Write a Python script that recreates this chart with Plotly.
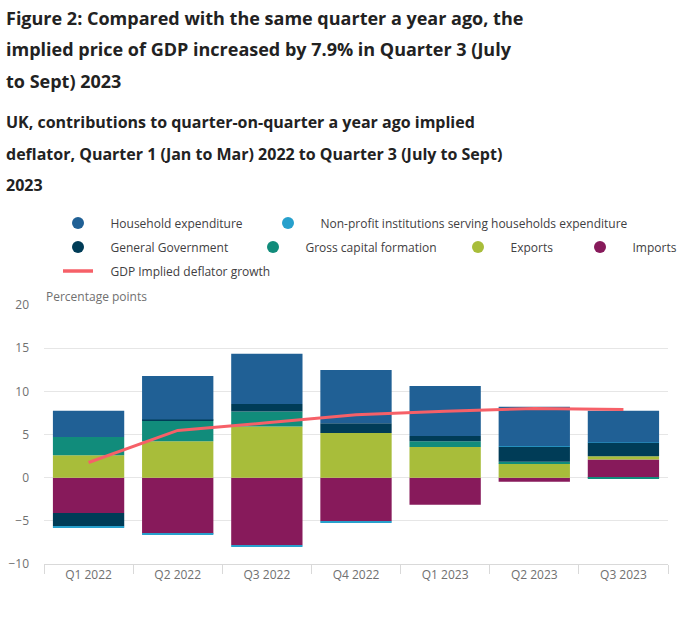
import plotly.graph_objects as go

quarters = ["Q1 2022", "Q2 2022", "Q3 2022", "Q4 2022", "Q1 2023", "Q2 2023", "Q3 2023"]

# contributions, percentage points
household = [3.06, 5.04, 5.81, 6.16, 5.81, 4.58, 3.69]
npish = [-0.2, -0.1, -0.1, -0.1, 0.0, 0.08, 0.05]
general_gov = [-1.53, 0.12, 0.88, 1.15, 0.61, 1.72, 1.53]
gross_capital = [2.1, 2.41, 1.72, 0.0, 0.65, 0.2, -0.1]
exports = [2.6, 4.21, 5.93, 5.16, 3.56, 1.64, 0.39]
imports = [-4.09, -6.5, -7.84, -5.05, -3.14, -0.46, 2.1]
deflator = [1.76, 5.47, 6.35, 7.3, 7.7, 8.0, 7.9]

title_lines = [
    "Figure 2: Compared with the same quarter a year ago, the",
    "implied price of GDP increased by 7.9% in Quarter 3 (July",
    "to Sept) 2023",
]
subtitle_lines = [
    "UK, contributions to quarter-on-quarter a year ago implied",
    "deflator, Quarter 1 (Jan to Mar) 2022 to Quarter 3 (July to Sept)",
    "2023",
]

W, H = 685, 633
ML, MT = 44, 305
MR, MB = W - 668, H - 564
FONT = "Open Sans"
PAD = "\u00a0" * 4

# stacking order (bottom first) is the reverse of the legend order
series = [
    ("Imports", imports, "#871a5b"),
    ("Exports", exports, "#a8bd3a"),
    ("Gross capital formation", gross_capital, "#118c7b"),
    ("General Government", general_gov, "#003c57"),
    ("Non-profit institutions serving households expenditure", npish, "#27a0cc"),
    ("Household expenditure", household, "#206095"),
]

# legend slot for each series: (legend id, marker x px, row y px)
legend_pos = {
    "Household expenditure": ("legend", 78, 223),
    "Non-profit institutions serving households expenditure": ("legend2", 288, 223),
    "General Government": ("legend3", 78, 247),
    "Gross capital formation": ("legend4", 273, 247),
    "Exports": ("legend5", 478, 247),
    "Imports": ("legend6", 600, 247),
    "GDP Implied deflator growth": ("legend7", 78, 271),
}

fig = go.Figure()

for name, vals, col in series:
    fig.add_trace(go.Bar(
        x=quarters, y=vals, name=name, marker_color=col,
        marker_line_width=0, showlegend=False,
    ))

fig.add_trace(go.Scatter(
    x=quarters, y=deflator, name="GDP Implied deflator growth",
    mode="lines", line=dict(color="#f66068", width=3), showlegend=False,
))

# legend entries with round symbols
for name, vals, col in reversed(series):
    lg = legend_pos[name][0]
    fig.add_trace(go.Scatter(
        x=[None], y=[None], mode="markers", name=PAD + name, legend=lg,
        marker=dict(symbol="circle", size=12, color=col),
    ))
fig.add_trace(go.Scatter(
    x=[None], y=[None], mode="lines", name=PAD + "GDP Implied deflator growth",
    legend="legend7", line=dict(color="#f66068", width=3.5),
))

legends = {}
for name, (lg, mx, my) in legend_pos.items():
    legends[lg] = dict(
        xref="container", yref="container",
        x=(mx - 20) / W, y=1 - my / H,
        xanchor="left", yanchor="middle",
        orientation="h", bgcolor="rgba(0,0,0,0)",
        font=dict(family=FONT, size=12, color="#414042"),
    )


def py(p):
    # pixel row -> paper y
    return (H - MB - p) / (H - MT - MB)


def px(p):
    return (p - ML) / (W - ML - MR)


annotations = []
for txt, yc in zip(title_lines, [18, 49, 81]):
    annotations.append(dict(
        text=txt, x=px(5), y=py(yc), xref="paper", yref="paper",
        xanchor="left", yanchor="middle", showarrow=False, borderpad=0,
        font=dict(family=FONT, size=18, weight="bold", color="#222222"),
    ))
for txt, yc in zip(subtitle_lines, [122, 154, 185]):
    annotations.append(dict(
        text=txt, x=px(5), y=py(yc), xref="paper", yref="paper",
        xanchor="left", yanchor="middle", showarrow=False, borderpad=0,
        font=dict(family=FONT, size=16, weight="bold", color="#222222"),
    ))
annotations.append(dict(
    text="Percentage points", x=px(45), y=py(296), xref="paper", yref="paper",
    xanchor="left", yanchor="middle", showarrow=False, borderpad=0,
    font=dict(family=FONT, size=12, color="#707070"),
))

fig.update_layout(
    width=W, height=H,
    margin=dict(l=ML, r=MR, t=MT, b=MB),
    barmode="relative", bargap=0.2,
    plot_bgcolor="white", paper_bgcolor="white",
    font=dict(family=FONT, size=12, color="#707070"),
    annotations=annotations,
    **legends,
)
fig.update_xaxes(
    automargin=False,
    showgrid=False, showline=True, linecolor="#d9d9d9", linewidth=1,
    ticks="outside", tickson="boundaries", ticklen=9, tickcolor="#d9d9d9",
    tickfont=dict(family=FONT, size=12, color="#707070"),
)
fig.update_yaxes(
    automargin=False,
    range=[-10, 20], dtick=5, showgrid=True, gridcolor="#e6e6e6",
    zeroline=True, zerolinecolor="#e6e6e6", zerolinewidth=1,
    ticks="", ticklabelstandoff=14,
    tickfont=dict(family=FONT, size=12, color="#707070"),
)

# drop the default page margin so the figure sits at the window corner
fig.write_html(
    "out.html",
    config={"displayModeBar": False},
    post_script="document.body.style.margin = '0';",
)
